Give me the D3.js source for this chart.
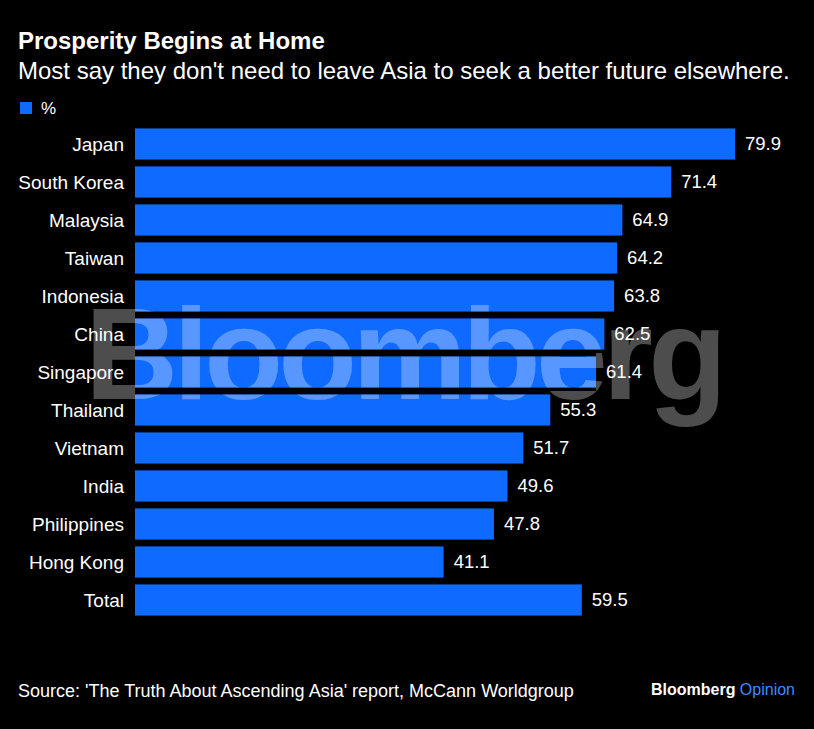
<!DOCTYPE html>
<html>
<head>
<meta charset="utf-8">
<script src="https://cdn.jsdelivr.net/npm/d3@7"></script>
<style>
  body { margin: 0; background: #000; }
  text { font-family: "Liberation Sans", Arial, Helvetica, sans-serif; }
</style>
</head>
<body>
<div id="chart"></div>
<script>
/* Horizontal bar chart - Prosperity Begins at Home */

const countries = ["Japan", "South Korea", "Malaysia", "Taiwan", "Indonesia", "China", "Singapore",
                   "Thailand", "Vietnam", "India", "Philippines", "Hong Kong", "Total"];
const values = [79.9, 71.4, 64.9, 64.2, 63.8, 62.5, 61.4, 55.3, 51.7, 49.6, 47.8, 41.1, 59.5];
const seriesName = "%";

const width = 814,
    height = 729,
    margin = ({ top: 125, right: 79, bottom: 110, left: 135 });

const barColor = "#0f6bff";

const data = countries.map((c, i) => ({ name: c, value: values[i] }));

const svg = d3.select("#chart")
    .append("svg")
    .attr("width", width)
    .attr("height", height)
    .attr("viewBox", [0, 0, width, height]);

svg.append("rect").attr("width", width).attr("height", height).attr("fill", "#000");

let x = d3.scaleLinear()
    .domain([0, 79.9])
    .range([margin.left, width - margin.right]);

let y = d3.scaleBand()
    .domain(countries)
    .range([margin.top, margin.top + 13 * 38])
    .paddingInner(0.18)
    .paddingOuter(0.09);

const gap = y.step() - y.bandwidth();

// title + subtitle
svg.append("text")
    .attr("x", 18).attr("y", 49)
    .attr("fill", "#fff")
    .attr("font-size", 24)
    .attr("font-weight", "bold")
    .text("Prosperity Begins at Home");

svg.append("text")
    .attr("x", 18).attr("y", 79)
    .attr("fill", "#fff")
    .attr("font-size", 24)
    .text("Most say they don't need to leave Asia to seek a better future elsewhere.");

// legend
svg.append("rect")
    .attr("x", 20).attr("y", 102)
    .attr("width", 12).attr("height", 12)
    .attr("fill", barColor);

svg.append("text")
    .attr("x", 41).attr("y", 114)
    .attr("fill", "#fff")
    .attr("font-size", 17)
    .text(seriesName);

// watermark, drawn below the chart
function watermark(g) {
    return g.append("text")
        .attr("x", 85).attr("y", 399)
        .attr("fill", "#fff")
        .attr("fill-opacity", 0.3)
        .attr("font-size", 129)
        .attr("font-weight", "bold")
        .attr("textLength", 642)
        .attr("lengthAdjust", "spacing")
        .text("Bloomberg");
}
watermark(svg);

// black row backgrounds (they hide the watermark in the gaps between bars)
svg.append("g")
    .selectAll("rect")
    .data(data)
    .join("rect")
    .attr("x", x(0))
    .attr("y", d => y(d.name) - gap / 2)
    .attr("width", d => x(d.value) - x(0))
    .attr("height", y.step())
    .attr("fill", "#000");

// small black stubs left of the bars
svg.append("g")
    .selectAll("rect")
    .data(data)
    .join("rect")
    .attr("x", x(0) - 22)
    .attr("y", d => y(d.name) + y.bandwidth() / 2 - 8)
    .attr("width", 30)
    .attr("height", 16)
    .attr("rx", 7)
    .attr("fill", "#000");

// bars
svg.append("g")
    .selectAll("rect")
    .data(data)
    .join("rect")
    .attr("x", x(0))
    .attr("y", d => y(d.name))
    .attr("width", d => x(d.value) - x(0))
    .attr("height", y.bandwidth())
    .attr("fill", barColor);

// watermark again, only over the bars
let clip = svg.append("defs").append("clipPath").attr("id", "bars-clip");
clip.selectAll("rect")
    .data(data)
    .join("rect")
    .attr("x", x(0))
    .attr("y", d => y(d.name))
    .attr("width", d => x(d.value) - x(0))
    .attr("height", y.bandwidth());
watermark(svg.append("g").attr("clip-path", "url(#bars-clip)"));

// category labels
svg.append("g")
    .selectAll("text")
    .data(data)
    .join("text")
    .attr("x", x(0) - 11)
    .attr("y", d => y(d.name) + y.bandwidth() / 2)
    .attr("dy", "0.35em")
    .attr("text-anchor", "end")
    .attr("fill", "#fff")
    .attr("font-size", 19)
    .text(d => d.name);

// value labels
svg.append("g")
    .selectAll("text")
    .data(data)
    .join("text")
    .attr("x", d => x(d.value) + 10)
    .attr("y", d => y(d.name) + y.bandwidth() / 2)
    .attr("dy", "0.35em")
    .attr("fill", "#fff")
    .attr("font-size", 18.5)
    .text(d => d.value.toFixed(1));

// footer
svg.append("text")
    .attr("x", 18).attr("y", 697)
    .attr("fill", "#fff")
    .attr("font-size", 18)
    .text("Source: 'The Truth About Ascending Asia' report, McCann Worldgroup");

let brand = svg.append("text")
    .attr("x", 795).attr("y", 695)
    .attr("text-anchor", "end")
    .attr("font-size", 16)
    .attr("font-weight", "bold");
brand.append("tspan").attr("fill", "#fff").text("Bloomberg ");
brand.append("tspan").attr("fill", "#3d8bff").attr("font-weight", "normal").text("Opinion");
</script>
</body>
</html>
